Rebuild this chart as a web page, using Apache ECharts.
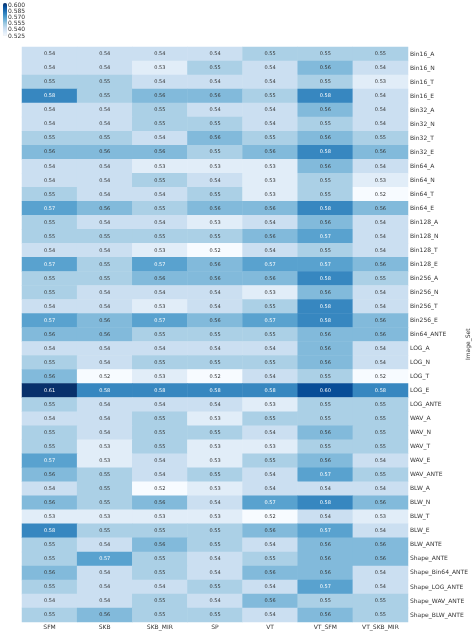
<!DOCTYPE html>
<html>
<head>
<meta charset="utf-8">
<script src="https://cdn.jsdelivr.net/npm/echarts@6/dist/echarts.min.js"></script>
<style>html,body{margin:0;padding:0;background:#fff}#chart{width:474px;height:632px}</style>
</head>
<body>
<div id="chart"></div>
<script>
var methods = ['SFM', 'SKB', 'SKB_MIR', 'SP', 'VT', 'VT_SFM', 'VT_SKB_MIR'];
var imageSets = ['Bin16_A','Bin16_N','Bin16_T','Bin16_E','Bin32_A','Bin32_N','Bin32_T','Bin32_E',
  'Bin64_A','Bin64_N','Bin64_T','Bin64_E','Bin128_A','Bin128_N','Bin128_T','Bin128_E',
  'Bin256_A','Bin256_N','Bin256_T','Bin256_E','Bin64_ANTE','LOG_A','LOG_N','LOG_T','LOG_E','LOG_ANTE',
  'WAV_A','WAV_N','WAV_T','WAV_E','WAV_ANTE','BLW_A','BLW_N','BLW_T','BLW_E','BLW_ANTE',
  'Shape_ANTE','Shape_Bin64_ANTE','Shape_LOG_ANTE','Shape_WAV_ANTE','Shape_BLW_ANTE'];
var scores = [
  [.54,.54,.54,.54,.55,.55,.55],
  [.54,.54,.53,.55,.54,.56,.54],
  [.55,.55,.54,.54,.54,.55,.53],
  [.58,.55,.56,.56,.55,.58,.54],
  [.54,.54,.55,.54,.54,.56,.54],
  [.54,.54,.55,.55,.54,.55,.54],
  [.55,.55,.54,.56,.55,.56,.55],
  [.56,.56,.56,.55,.56,.58,.56],
  [.54,.54,.53,.53,.53,.56,.54],
  [.54,.54,.55,.54,.53,.55,.53],
  [.55,.54,.54,.55,.53,.55,.52],
  [.57,.56,.55,.56,.56,.58,.56],
  [.55,.54,.54,.53,.54,.56,.54],
  [.55,.55,.55,.55,.56,.57,.54],
  [.54,.54,.53,.52,.54,.55,.54],
  [.57,.55,.57,.56,.57,.57,.56],
  [.55,.55,.56,.56,.56,.58,.55],
  [.55,.54,.54,.54,.53,.56,.54],
  [.54,.54,.53,.54,.55,.58,.54],
  [.57,.56,.57,.56,.57,.58,.56],
  [.56,.56,.55,.55,.55,.56,.56],
  [.54,.54,.54,.54,.54,.56,.54],
  [.55,.54,.55,.55,.55,.56,.54],
  [.56,.52,.53,.52,.54,.55,.52],
  [.61,.58,.58,.58,.58,.60,.58],
  [.55,.54,.54,.54,.53,.55,.55],
  [.54,.54,.55,.53,.55,.55,.55],
  [.55,.54,.55,.55,.54,.56,.55],
  [.55,.53,.55,.53,.53,.55,.55],
  [.57,.53,.54,.53,.55,.56,.54],
  [.56,.55,.54,.55,.54,.57,.55],
  [.54,.55,.52,.53,.54,.54,.54],
  [.56,.55,.56,.54,.57,.58,.56],
  [.53,.53,.53,.53,.52,.54,.53],
  [.58,.55,.55,.55,.56,.57,.54],
  [.55,.54,.56,.55,.54,.56,.56],
  [.55,.57,.55,.54,.55,.56,.56],
  [.56,.54,.55,.54,.56,.56,.54],
  [.55,.54,.54,.55,.54,.57,.54],
  [.54,.54,.55,.54,.56,.55,.55],
  [.55,.56,.55,.55,.54,.56,.55]
];
var barTicks = ['0.600', '0.585', '0.570', '0.555', '0.540', '0.525'];

var data = [];
scores.forEach(function (row, r) {
  row.forEach(function (v, c) {
    data.push({ value: [c, r, v], label: { color: v >= 0.57 ? '#fff' : '#333' } });
  });
});

var ticksGraphic = barTicks.map(function (t, i) {
  return { type: 'text', left: 8, top: 2 + i * 6.2,
    style: { text: t, fontSize: 6, fill: '#333', fontFamily: 'DejaVu Sans' } };
});
ticksGraphic.push({
  type: 'text', x: 465, y: 360, rotation: Math.PI / 2,
  style: { text: 'Image_Set', fontSize: 6, fill: '#333', fontFamily: 'DejaVu Sans' }
});

var chart = echarts.init(document.getElementById('chart'));
chart.setOption({
  animation: false,
  grid: { left: 22, right: 66, top: 47, bottom: 10, containLabel: false, outerBoundsMode: 'none' },
  xAxis: {
    type: 'category', data: methods, position: 'bottom',
    axisLine: { show: false }, axisTick: { show: false }, splitLine: { show: false },
    axisLabel: { fontSize: 6, color: '#333', margin: 2, fontFamily: 'DejaVu Sans' }
  },
  yAxis: {
    type: 'category', data: imageSets, inverse: true, position: 'right',
    axisLine: { show: false }, axisTick: { show: false }, splitLine: { show: false },
    axisLabel: { fontSize: 6, color: '#333', margin: 2, fontFamily: 'DejaVu Sans' }
  },
  visualMap: {
    min: 0.52, max: 0.61, calculable: false, orient: 'vertical',
    left: 3, top: 3, padding: 0, itemWidth: 4, itemHeight: 33, text: null, showLabel: false,
    textStyle: { fontSize: 0 },
    inRange: { color: ['#f7fbff','#deebf7','#c6dbef','#9ecae1','#6baed6','#4292c6','#2171b5','#08519c','#08306b'] }
  },
  graphic: ticksGraphic,
  series: [{
    type: 'heatmap', data: data,
    label: {
      show: true, fontSize: 5, fontFamily: 'DejaVu Sans',
      formatter: function (p) { return p.value[2].toFixed(2); }
    },
    itemStyle: { borderWidth: 0 }
  }]
});
</script>
</body>
</html>
